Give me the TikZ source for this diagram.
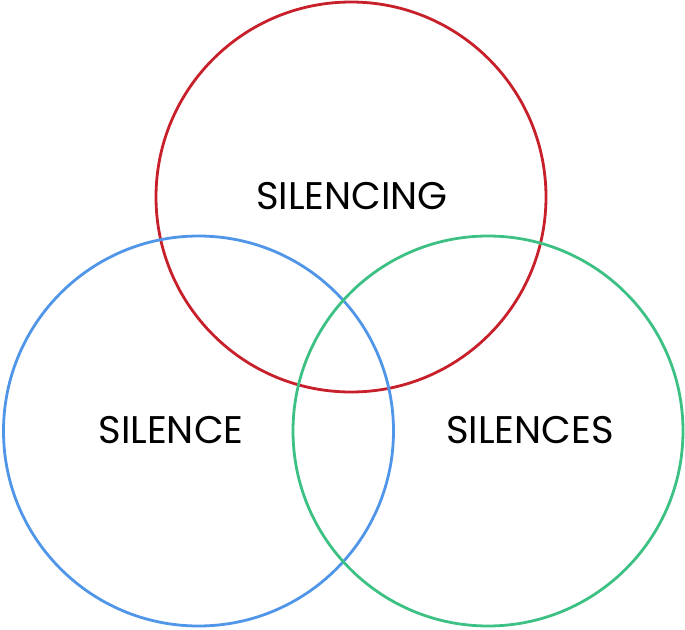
\documentclass[tikz,border=0pt]{standalone}
\usepackage{fontspec}
\setmainfont{Poppins}
\definecolor{cred}{HTML}{C8202A}
\definecolor{cblue}{HTML}{4F95E8}
\definecolor{cgreen}{HTML}{3CC084}
\begin{document}
\begin{tikzpicture}[x=1pt,y=-1pt,
  ring/.style={draw=#1,line width=2.8pt,circle,minimum size=390pt,inner sep=0pt},
  lbl/.style={font=\fontsize{38.5}{40}\selectfont,text=black,inner sep=0pt,anchor=base}]
\useasboundingbox (0,0) rectangle (685,629);
\node[ring=cred] (red) at (351,197) {};
\node[ring=cblue] (blue) at (198.5,431) {};
\node[ring=cgreen] (green) at (488,431) {};
\node[lbl] (t1) at (352,209.6) {SILENCING};
\node[lbl] (t2) at (171,443.8) {SILENCE};
\node[lbl] (t3) at (530,443.8) {SILENCES};
\end{tikzpicture}
\end{document}
